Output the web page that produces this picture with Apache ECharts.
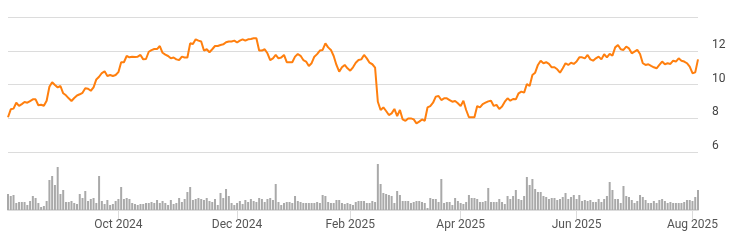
<!DOCTYPE html>
<html><head><meta charset="utf-8">
<script src="https://cdn.jsdelivr.net/npm/echarts@6/dist/echarts.min.js"></script>
<style>html,body{margin:0;padding:0;background:#fff}#c{width:739px;height:251px}</style>
</head><body><div id="c"></div>
<script>
// Trading-day calendar (category axis) : weekdays from startDate to endDate minus exchange holidays
const startDate = '2024-08-05';
const endDate = '2025-08-05';
const holidays = ['2024-09-02','2024-11-28','2024-12-25','2025-01-01','2025-01-09','2025-01-20','2025-02-17','2025-04-18','2025-05-26','2025-06-19','2025-07-04'];
const labelMonths = [1, 3, 5, 7, 9, 11]; // 0-based months labelled on the axis: Feb, Apr, Jun, Aug, Oct, Dec
const monthNames = ['Jan','Feb','Mar','Apr','May','Jun','Jul','Aug','Sep','Oct','Nov','Dec'];

const prices = [
8.06, 8.53, 8.57, 8.92, 8.73, 8.84, 8.96, 8.92, 9.02, 9.12,
9.12, 8.77, 8.80, 8.74, 9.04, 9.87, 10.13, 9.97, 9.83, 9.91,
9.48, 9.36, 9.18, 9.02, 9.20, 9.35, 9.42, 9.51, 9.78, 9.75,
9.63, 9.83, 10.30, 10.46, 10.68, 10.78, 10.50, 10.56, 10.50, 10.56,
10.73, 11.32, 11.32, 11.69, 11.61, 11.65, 11.63, 11.65, 11.75, 11.49,
11.51, 11.94, 12.04, 12.10, 12.10, 12.28, 11.88, 11.77, 11.69, 11.55,
11.60, 11.49, 11.45, 11.65, 11.60, 11.60, 12.44, 12.40, 12.68, 12.60,
12.55, 12.01, 12.09, 11.91, 12.09, 12.28, 12.28, 12.34, 12.38, 12.50,
12.55, 12.55, 12.60, 12.49, 12.60, 12.68, 12.60, 12.68, 12.70, 12.74,
12.74, 12.01, 12.01, 12.09, 11.85, 11.45, 11.55, 11.75, 11.55, 11.60,
11.75, 11.32, 11.32, 11.32, 11.65, 11.81, 11.70, 11.45, 11.36, 11.10,
11.26, 11.65, 11.80, 12.01, 12.05, 12.44, 12.20, 12.05, 11.69, 11.16,
10.76, 11.02, 11.16, 10.96, 10.82, 11.02, 11.29, 11.45, 11.49, 11.75,
11.55, 11.29, 11.20, 11.00, 8.98, 8.49, 8.64, 8.43, 8.19, 8.29,
8.55, 8.13, 8.49, 7.93, 7.85, 7.99, 7.99, 7.93, 7.70, 7.80,
7.93, 7.85, 8.64, 8.72, 8.92, 9.28, 9.32, 9.08, 9.18, 9.18,
9.08, 8.98, 9.02, 8.89, 8.72, 9.04, 8.49, 8.06, 8.06, 8.06,
8.72, 8.64, 8.84, 8.92, 9.00, 9.04, 8.73, 8.79, 8.55, 8.69,
8.98, 9.18, 9.04, 9.14, 9.12, 9.48, 9.58, 9.52, 10.03, 9.91,
10.56, 10.70, 11.16, 11.41, 11.26, 11.32, 11.22, 11.02, 11.02, 10.90,
10.70, 10.96, 11.26, 11.16, 11.29, 11.22, 11.36, 11.61, 11.61, 11.55,
11.75, 11.49, 11.41, 11.55, 11.65, 11.49, 11.79, 11.61, 11.81, 11.71,
12.20, 12.34, 12.09, 12.05, 12.24, 12.14, 11.85, 11.95, 12.05, 11.81,
11.26, 11.16, 11.20, 11.10, 11.02, 10.96, 11.16, 11.36, 11.20, 11.26,
11.22, 11.41, 11.36, 11.55, 11.41, 11.36, 11.26, 11.06, 10.67, 10.72,
11.49
];

// volume in units of 100k shares
const volumes = [
16, 14, 15, 7, 8, 8, 8, 5, 9, 14,
12, 7, 3, 4, 9, 30, 34, 25, 43, 16,
20, 8, 8, 9, 7, 6, 16, 12, 19, 9,
11, 12, 7, 34, 9, 6, 10, 5, 6, 9,
11, 23, 11, 12, 11, 7, 6, 5, 6, 6,
7, 7, 8, 7, 10, 7, 9, 7, 5, 10,
6, 7, 12, 8, 11, 18, 23, 10, 11, 12,
11, 10, 12, 9, 8, 11, 5, 17, 12, 21,
14, 7, 5, 7, 9, 6, 10, 8, 11, 9,
8, 12, 11, 8, 11, 12, 10, 26, 8, 5,
7, 8, 8, 7, 14, 9, 8, 7, 7, 7,
7, 7, 8, 7, 15, 14, 8, 7, 7, 10,
10, 7, 6, 7, 6, 5, 8, 9, 9, 9,
7, 7, 9, 8, 46, 26, 17, 16, 15, 14,
7, 19, 15, 9, 9, 9, 7, 8, 9, 9,
8, 7, 2, 12, 11, 11, 8, 31, 7, 8,
8, 5, 12, 9, 7, 6, 8, 15, 12, 12,
11, 8, 8, 9, 22, 8, 8, 8, 11, 8,
6, 14, 11, 14, 20, 11, 10, 14, 33, 25,
31, 21, 18, 18, 14, 13, 11, 12, 12, 10,
11, 13, 17, 11, 13, 15, 11, 15, 9, 10,
9, 10, 8, 8, 11, 8, 11, 14, 28, 20,
11, 11, 7, 24, 14, 13, 10, 7, 9, 15,
13, 10, 7, 7, 9, 7, 10, 11, 9, 7,
8, 7, 7, 7, 7, 8, 10, 10, 9, 13,
20
];

const priceTicks = [6, 8, 10, 12, 14];

// build categories
const dates = [];
(function(){
  const d = new Date(startDate + 'T00:00:00Z');
  const end = new Date(endDate + 'T00:00:00Z');
  while (d <= end) {
    const wd = d.getUTCDay();
    const s = d.toISOString().slice(0, 10);
    if (wd !== 0 && wd !== 6 && holidays.indexOf(s) < 0) dates.push(s);
    d.setUTCDate(d.getUTCDate() + 1);
  }
})();
const isLabel = dates.map((s, i) => {
  if (i === 0) return false;
  const m = +s.slice(5, 7) - 1;
  const pm = +dates[i - 1].slice(5, 7) - 1;
  return m !== pm && labelMonths.indexOf(m) >= 0;
});
const fmt = s => monthNames[+s.slice(5, 7) - 1] + ' ' + s.slice(0, 4);

const chart = echarts.init(document.getElementById('c'), null, {renderer: 'canvas'});
const font = 'Roboto, "Noto Sans", sans-serif';
chart.setOption({
  animation: false,
  grid: [
    {left: 8, right: 41, top: 17, height: 135},
    {left: 8, right: 41, top: 152, height: 58}
  ],
  xAxis: [
    {type: 'category', gridIndex: 0, data: dates, boundaryGap: false, show: false},
    {type: 'category', gridIndex: 1, data: dates, boundaryGap: false,
     axisLine: {lineStyle: {color: '#dcdcdc', width: 2}},
     axisTick: {show: true, interval: (i) => isLabel[i], length: 9, lineStyle: {color: '#dcdcdc', width: 1}},
     axisLabel: {interval: (i) => isLabel[i], formatter: fmt, color: '#555', fontFamily: font, fontSize: 12, margin: 9},
     splitLine: {show: false}}
  ],
  yAxis: [
    {type: 'value', gridIndex: 0, position: 'right', min: priceTicks[0], max: priceTicks[priceTicks.length - 1], interval: 2,
     axisLine: {show: false}, axisTick: {show: false},
     axisLabel: {showMaxLabel: false, color: '#444', fontFamily: font, fontSize: 12, margin: 14, verticalAlign: 'bottom', align: 'left'},
     splitLine: {lineStyle: {color: '#dcdcdc', width: 1}}},
    {type: 'value', gridIndex: 1, min: 0, max: 58, show: false, splitLine: {show: false}}
  ],
  series: [
    {type: 'line', xAxisIndex: 0, yAxisIndex: 0, data: prices, symbol: 'none',
     lineStyle: {color: '#ff7f0e', width: 2}, z: 3},
    {type: 'bar', xAxisIndex: 1, yAxisIndex: 1, data: volumes, barWidth: 2,
     itemStyle: {color: '#a9a9a9'}}
  ]
});
</script></body></html>
